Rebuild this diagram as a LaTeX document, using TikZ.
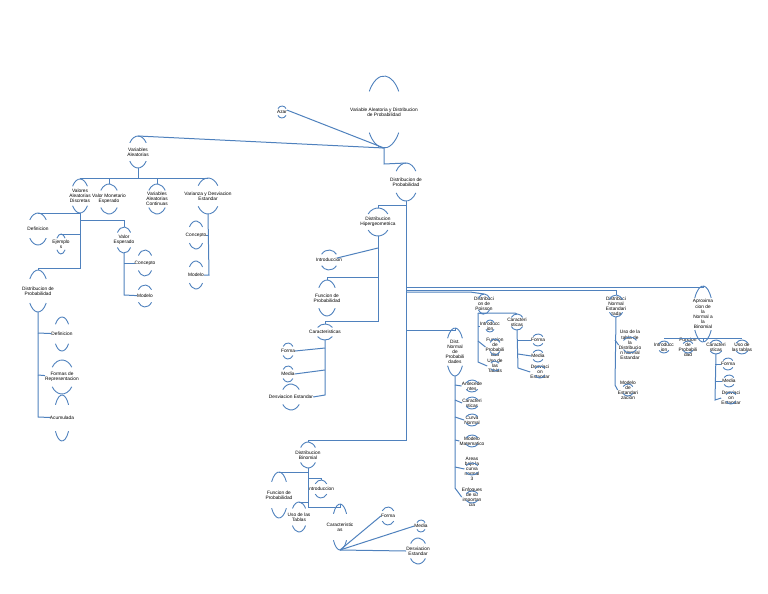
\documentclass[tikz,border=0pt]{standalone}
\usepackage{fontspec}
\setmainfont{Liberation Sans}
\begin{document}
\begin{tikzpicture}[x=1pt,y=-1pt,
  tx/.style={font=\fontsize{4.8}{5.1}\selectfont, align=center, inner sep=0pt}]
\definecolor{bl}{RGB}{79,129,189}
\useasboundingbox (0,0) rectangle (768,594);
\newcommand\ov[6]{%
  \node[tx] (#1) at (#2,#3) {#6};
  \coordinate (#1t) at (#2,#3-#5);
  \coordinate (#1b) at (#2,#3+#5);
  \draw[bl,line width=0.9pt] (#2,#3) ++(35:#4pt and -#5pt) arc[start angle=35,end angle=145,x radius=#4pt,y radius=-#5pt];
  \draw[bl,line width=0.9pt] (#2,#3) ++(215:#4pt and -#5pt) arc[start angle=215,end angle=325,x radius=#4pt,y radius=-#5pt];}
\tikzset{c/.style={bl,line width=1pt}}
% root
\ov{root}{384}{112}{18}{36}{Variable Aleatoria y Distribucion\\de Probabilidad}
\ov{azar}{282}{112}{5}{6}{Azar}
\ov{va}{138}{152}{10}{16}{Variables\\Aleatorias}
\ov{dp}{406}{182}{12}{19}{Distribucion de\\Probabilidad}
\draw[c] (azar.north east) -- (rootb);
\draw[c] (vat) -- (rootb);
\draw[c] (rootb) -- (384,164) -- (dpt);
% Variables aleatorias
\ov{vad}{80}{196}{9}{17}{Valores\\Aleatorias\\Discretas}
\ov{vme}{109}{199}{10}{15}{Valor Monetario\\Esperado}
\ov{vac}{157}{199}{10}{15}{Variables\\Aleatorias\\Continuas}
\ov{vde}{208}{196}{12}{18}{Varianza y Desviacion\\Estandar}
\draw[c] (vab) -- (138,178);
\draw[c] (vadt) -- (80,178) -- (208,178) -- (vdet);
\draw[c] (vmet) -- (109,178); \draw[c] (vact) -- (157,178);
\ov{def}{38}{229}{10}{16}{Definicion}
\ov{ej}{61}{244}{5}{10}{Ejemplo\\s}
\ov{ve}{124}{240}{8}{13}{Valor\\Esperado}
\ov{dp2}{38}{291}{10}{21}{Distribucion de\\Probabilidad}
\draw[c] (vadb) -- (80,268) -- (38,268) -- (dp2t);
\draw[c] (80,213) -- (38,213) -- (deft);
\draw[c] (80,234) -- (61,234) -- (ejt);
\draw[c] (80,220) -- (124,220) -- (vet);
\ov{con1}{145}{263}{8}{13}{Concepto}
\ov{mod1}{145}{296}{8}{11}{Modelo}
\draw[c] (veb) -- (124,295) -- (mod1);
\draw[c] (124,263) -- (con1);
\ov{con2}{196}{235}{8}{14}{Concepto}
\ov{mod2}{196}{275}{8}{14}{Modelo}
\draw[c] (vdeb) -- (209,275) -- (mod2);
\draw[c] (209,235) -- (con2);
\ov{def2}{62}{334}{8}{17}{Definicion}
\ov{frep}{62}{377}{12}{17}{Formas de\\Representacion}
\ov{acu}{62}{418}{8}{23}{Acumulada}
\draw[c] (dp2b) -- (38,417) -- (acu);
\draw[c] (38,333) -- (def2); \draw[c] (38,375) -- (frep);
% Hipergeometrica
\ov{hip}{378}{222}{12}{14}{Distribucion\\Hipergeometrica}
\draw[c] (dpb) -- (406,440) -- (308,440);
\draw[c] (406,205) -- (378,205) -- (hipt);
\ov{int1}{329}{260}{9}{10}{Introduccion}
\ov{fp1}{327}{298}{10}{18}{Funcion de\\Probabilidad}
\ov{car1}{325}{332}{9}{8}{Caracteristicas}
\draw[c] (hipb) -- (378,321) -- (325,321) -- (car1t);
\draw[c] (378,277) -- (327,277) -- (fp1t);
\draw[c] (378,248) -- (int1);
\ov{fo1}{288}{351}{6}{8}{Forma}
\ov{me1}{288}{374}{6}{8}{Media}
\ov{de1}{291}{397}{10}{13}{Desviacion Estandar}
\draw[c] (car1b) -- (325,395) -- (de1.east);
\draw[c] (325,348) -- (fo1.east); \draw[c] (325,370) -- (me1.east);
% Binomial
\ov{bin}{308}{455}{9}{13}{Distribucion\\Binomial}
\draw[c] (308,440) -- (bint);
\ov{fp2}{279}{495}{9}{23}{Funcion de\\Probabilidad}
\ov{int2}{321}{489}{7}{9}{Introduccion}
\ov{ut2}{299}{517}{8}{15}{Uso de las\\Tablas}
\ov{car2}{340}{527}{8}{23}{Caracteristic\\as}
\draw[c] (binb) -- (308,507) -- (340,507) -- (car2t);
\draw[c] (308,472) -- (279,472) -- (fp2t);
\draw[c] (308,478) -- (321,478) -- (int2t);
\draw[c] (308,502) -- (299,502) -- (ut2t);
\ov{fo2}{388}{516}{7}{9}{Forma}
\ov{me2}{421}{526}{5}{6}{Media}
\ov{de2}{418}{551}{9}{13}{Desviacion\\Estandar}
\draw[c] (car2b) -- (fo2.west); \draw[c] (car2b) -- (me2.west); \draw[c] (car2b) -- (de2.west);
% right branches
\ov{poi}{484}{304}{7}{10}{Distribuci\\on de\\Poisson}
\ov{dne}{616}{306}{8}{11}{Distribuci\\Normal\\Estandari\\zada}
\ov{apr}{703}{314}{10}{28}{Aproxima\\cion de\\la\\Normal a\\la\\Binomial}
\ov{dnp}{455}{352}{9}{24}{Dist.\\Normal\\de\\Probabili\\dades}
\draw[c] (406,287) -- (703,287) -- (aprt);
\draw[c] (406,290) -- (616,290) -- (dnet);
\draw[c] (406,292) -- (470,292) -- (poit);
\draw[c] (406,330) -- (455,330) -- (dnpt);
% Poisson
\ov{int3}{490}{326}{5}{6}{Introducc\\ion}
\ov{fp3}{495}{347}{6}{8}{Funcion\\de\\Probabili\\dad}
\ov{ut3}{495}{366}{5}{5}{Uso de\\las\\Tablas}
\ov{car3}{517}{322}{7}{8}{Caracteri\\sticas}
\draw[c] (poib) -- (478,313) -- (515,313) -- (car3t);
\draw[c] (478,313) -- (478,362) -- (ut3.west);
\draw[c] (478,326) -- (int3.west); \draw[c] (478,341) -- (fp3.west);
\ov{fo3}{538}{340}{6}{6}{Forma}
\ov{me3}{538}{356}{6}{6}{Media}
\ov{de3}{540}{372}{6}{6}{Desviaci\\on\\Estandar}
\draw[c] (car3b) -- (518,368) -- (de3.west);
\draw[c] (518,340) -- (fo3.west); \draw[c] (518,354) -- (me3.west);
% Normal estandarizada
\ov{ut4}{630}{345}{8}{8}{Uso de la\\tabla de\\la\\Distribucio\\n Normal\\Estandar}
\ov{me4}{628}{390}{6}{6}{Modelo\\de\\Estandari\\zacion}
\draw[c] (dneb) -- (615,385) -- (me4.west);
\draw[c] (615,340) -- (ut4.west);
% Aproximacion
\ov{int5}{664}{347}{6}{6}{Introducc\\ion}
\ov{fp5}{688}{347}{6}{6}{Funcion\\de\\Probabili\\dad}
\ov{car5}{716}{347}{7}{7}{Caracteri\\sticas}
\ov{ut5}{742}{347}{7}{7}{Uso de\\las tablas}
\draw[c] (aprb) -- (703,338);
\draw[c] (664,338) -- (742,338);
\ov{fo5}{728}{364}{6}{6}{Forma}
\ov{me5}{729}{381}{6}{6}{Media}
\ov{de5}{731}{398}{6}{6}{Desviaci\\on\\Estandar}
\draw[c] (car5b) -- (715,400) -- (de5.west);
\draw[c] (715,364) -- (fo5.west); \draw[c] (715,381) -- (me5.west);
% Dist normal de probabilidades
\ov{an}{472}{386}{7}{6}{Antecede\\ntes}
\ov{ca6}{472}{403}{7}{6}{Caracteri\\sticas}
\ov{cn}{472}{420}{7}{6}{Curva\\Normal}
\ov{mm}{472}{441}{7}{6}{Modelo\\Matematico}
\ov{ab}{472}{469}{7}{6}{Areas\\bajo la\\curva\\normal\\3}
\ov{en}{472}{497}{7}{6}{Enfoques\\de su\\importan\\cia}
\draw[c] (dnpb) -- (455,488) -- (en.west);
\draw[c] (455,385) -- (an.west); \draw[c] (455,400) -- (ca6.west);
\draw[c] (455,417) -- (cn.west); \draw[c] (455,440) -- (mm.west);
\draw[c] (455,467) -- (ab.west);
\end{tikzpicture}
\end{document}
